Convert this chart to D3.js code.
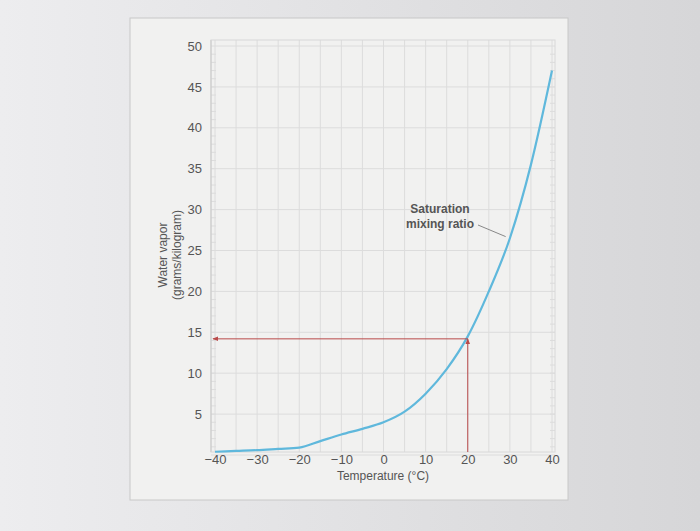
<!DOCTYPE html><html><head><meta charset="utf-8"><script src="https://cdn.jsdelivr.net/npm/d3@7"></script>
<style>body{margin:0;background:#e6e6e8}</style></head><body><svg id="c" width="700" height="531"></svg>
<script>
const temps=[-40,-35,-30,-25,-20,-15,-10,-5,0,5,10,15,20,25,30,35,40];
const ratio=[0.4,0.5,0.6,0.75,0.9,1.7,2.5,3.2,4.0,5.3,7.5,10.5,14.5,20,26.5,35.5,47];
const xTicks=[-40,-30,-20,-10,0,10,20,30,40];
const yTicks=[5,10,15,20,25,30,35,40,45,50];
const readT=20, readR=14.2;
const svg=d3.select("#c");
const defs=svg.append("defs");
const g0=defs.append("linearGradient").attr("id","bg").attr("x1",0).attr("x2",1);
g0.append("stop").attr("offset",0).attr("stop-color","#ededef");
g0.append("stop").attr("offset",1).attr("stop-color","#d6d6d8");
svg.append("rect").attr("width",700).attr("height",531).attr("fill","url(#bg)");
svg.append("rect").attr("x",130).attr("y",18).attr("width",438).attr("height",482).attr("fill","#f1f1f0").attr("stroke","#c8c8c8");
const x=d3.scaleLinear().domain([-40,40]).range([215,552]);
const y=d3.scaleLinear().domain([0,50]).range([455,46]);
const grid=svg.append("g").attr("stroke","#dcdcdc").attr("stroke-width",1);
d3.range(-40,41,5).forEach(t=>grid.append("line").attr("x1",x(t)).attr("x2",x(t)).attr("y1",40).attr("y2",452));
d3.range(0,51,5).forEach(v=>grid.append("line").attr("x1",211).attr("x2",555).attr("y1",y(v)).attr("y2",y(v)));
d3.range(1,50,1).forEach(v=>{grid.append("line").attr("x1",211).attr("x2",216).attr("y1",y(v)).attr("y2",y(v));grid.append("line").attr("x1",550).attr("x2",555).attr("y1",y(v)).attr("y2",y(v));});
svg.append("line").attr("x1",211).attr("x2",211).attr("y1",40).attr("y2",452).attr("stroke","#bbbbbb");
svg.append("rect").attr("x",211).attr("y",40).attr("width",344).attr("height",412).attr("fill","none").attr("stroke","#d8d8d8");
const ya=svg.append("g").attr("transform","translate(205,0)").call(d3.axisLeft(y).tickValues(yTicks).tickSize(0));
ya.select(".domain").remove();
ya.selectAll("text").attr("font-family","Liberation Sans, Arial").attr("font-size",13).attr("fill","#555");
const xa=svg.append("g").attr("transform","translate(0,452)").call(d3.axisBottom(x).tickValues(xTicks).tickSize(0).tickFormat(d=>d<0?"\u2212"+(-d):d));
xa.select(".domain").remove();
xa.selectAll("text").attr("font-family","Liberation Sans, Arial").attr("font-size",13).attr("fill","#555");
const line=d3.line().x((d,i)=>x(temps[i])).y(d=>y(d)).curve(d3.curveMonotoneX);
svg.append("path").datum(ratio).attr("d",line).attr("fill","none").attr("stroke","#5fb8dc").attr("stroke-width",2.2);
defs.append("marker").attr("id","ar").attr("viewBox","0 0 10 10").attr("refX",9).attr("refY",5).attr("markerWidth",6).attr("markerHeight",6).attr("orient","auto").append("path").attr("d","M0,1L10,5L0,9z").attr("fill","#b94a4a");
svg.append("line").attr("x1",x(readT)).attr("x2",x(readT)).attr("y1",452).attr("y2",y(readR)).attr("stroke","#b94a4a").attr("stroke-width",1).attr("marker-end","url(#ar)");
svg.append("line").attr("x1",x(readT)).attr("x2",213).attr("y1",y(readR)).attr("y2",y(readR)).attr("stroke","#b94a4a").attr("stroke-width",1).attr("marker-end","url(#ar)");
const ann=svg.append("text").attr("font-family","Liberation Sans Narrow, Liberation Sans").attr("font-weight","bold").attr("font-size",12).attr("fill","#555").attr("text-anchor","middle");
ann.append("tspan").attr("x",440).attr("y",213).text("Saturation");
ann.append("tspan").attr("x",440).attr("y",228).text("mixing ratio");
svg.append("line").attr("x1",478).attr("x2",x(29)).attr("y1",225).attr("y2",y(26.7)).attr("stroke","#888");
svg.append("text").attr("transform","translate(170,255) rotate(-90)").attr("text-anchor","middle").attr("font-family","Liberation Sans, Arial").attr("font-size",12).attr("fill","#555")
 .selectAll("tspan").data(["Water vapor","(grams/kilogram)"]).join("tspan").attr("x",0).attr("dy",(d,i)=>i?14:-3).text(d=>d);
svg.append("text").attr("x",383).attr("y",480).attr("text-anchor","middle").attr("font-family","Liberation Sans, Arial").attr("font-size",12).attr("fill","#555").text("Temperature (°C)");
</script></body></html>
